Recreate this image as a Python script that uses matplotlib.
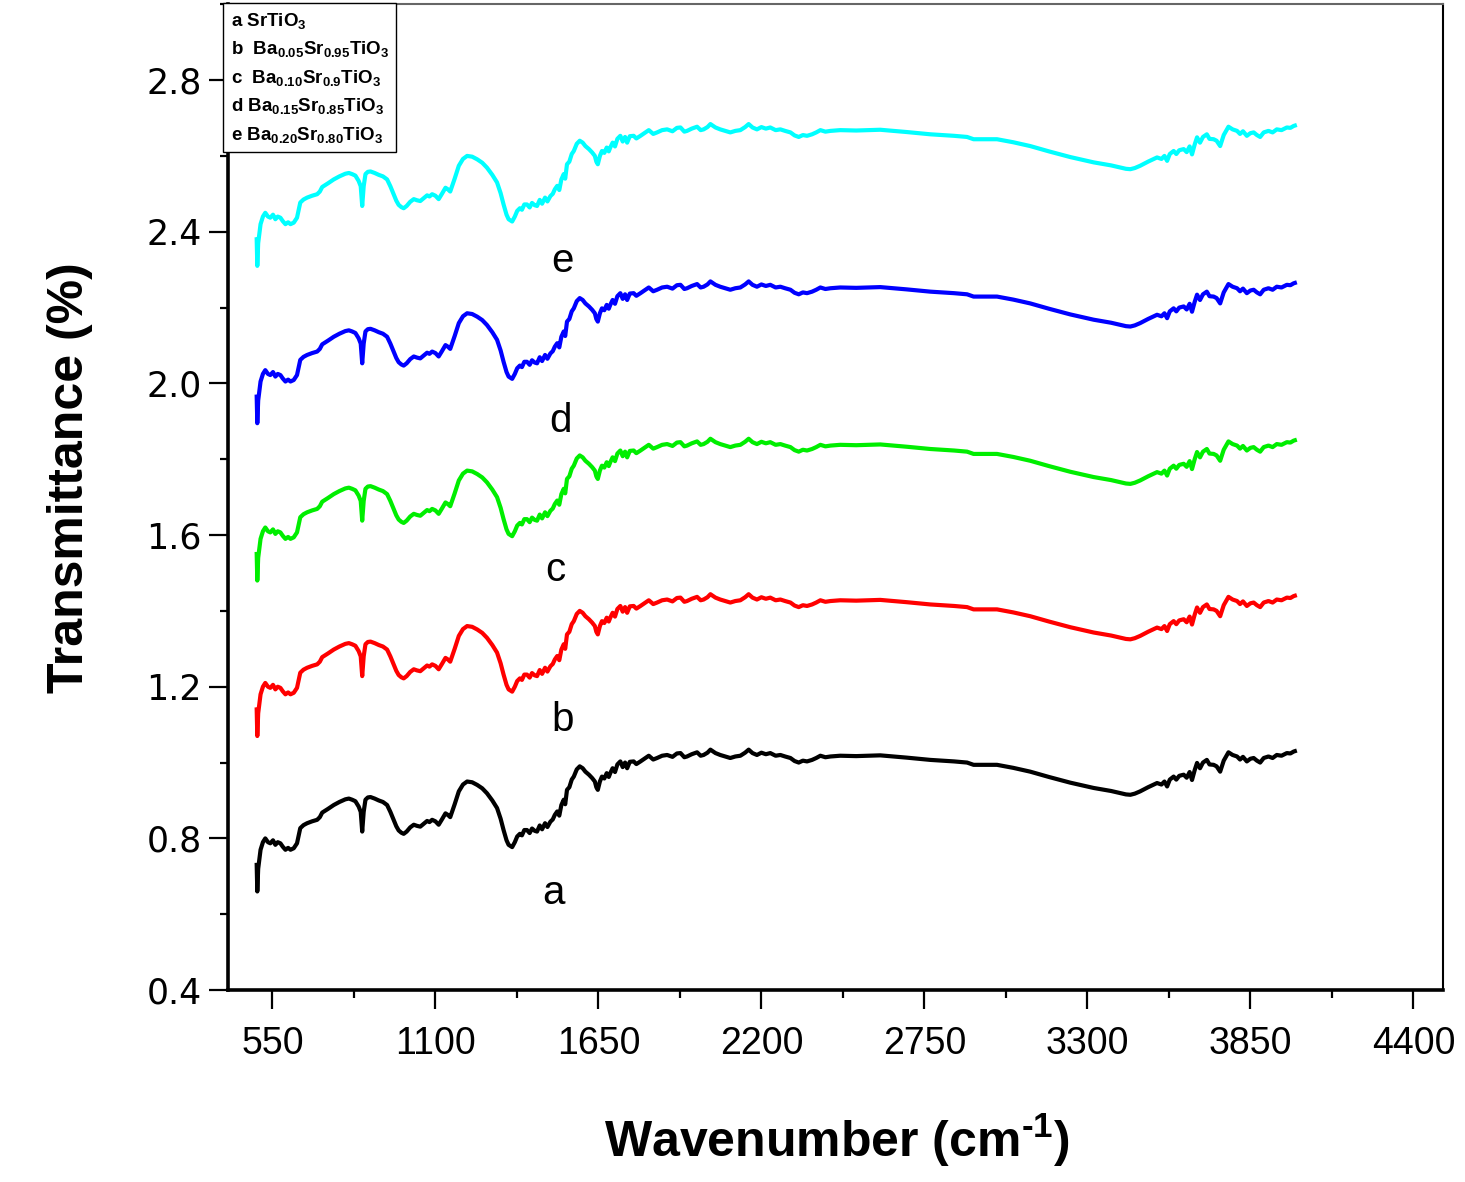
import numpy as np
import matplotlib
matplotlib.use("Agg")
from matplotlib import pyplot as plt
from matplotlib.lines import Line2D
from matplotlib.ticker import MultipleLocator

# FTIR spectrum of SrTiO3 (black trace, a)
wavenumber = [497, 499, 502, 510, 518, 526, 535, 543, 552, 560, 568, 577, 585, 594, 603, 611,
              622, 633, 644, 655, 667, 684, 701, 710, 718, 738, 757, 776, 796, 808, 819, 830,
              841, 848, 853, 858, 864, 872, 881, 895, 909, 923, 937, 948, 959, 968, 976, 985,
              993, 1003, 1015, 1027, 1038, 1049, 1060, 1072, 1080, 1089, 1100, 1111, 1122, 1134,
              1142, 1150, 1165, 1179, 1193, 1207, 1224, 1241, 1258, 1274, 1292, 1308, 1320, 1330,
              1340, 1347, 1359, 1368, 1376, 1385, 1392, 1400, 1409, 1418, 1426, 1435, 1443, 1452,
              1460, 1470, 1478, 1488, 1496, 1503, 1511, 1518, 1525, 1533, 1538, 1544, 1552, 1560,
              1567, 1577, 1587, 1597, 1606, 1618, 1629, 1638, 1643, 1648, 1655, 1662, 1670, 1678,
              1685, 1690, 1698, 1706, 1714, 1724, 1732, 1740, 1747, 1756, 1769, 1778, 1792, 1805,
              1820, 1835, 1848, 1865, 1882, 1900, 1915, 1927, 1940, 1949, 1965, 1983, 1995, 2005,
              2018, 2028, 2045, 2061, 2078, 2095, 2112, 2129, 2145, 2157, 2170, 2185, 2200, 2215,
              2230, 2248, 2264, 2280, 2298, 2312, 2326, 2340, 2354, 2371, 2385, 2399, 2416, 2433,
              2466, 2520, 2601, 2690, 2770, 2850, 2894, 2916, 2995, 3050, 3107, 3170, 3242, 3321,
              3380, 3430, 3445, 3460, 3478, 3505, 3535, 3550, 3560, 3569, 3578, 3591, 3600, 3610,
              3625, 3635, 3645, 3653, 3662, 3670, 3680, 3690, 3703, 3712, 3726, 3736, 3748, 3760,
              3776, 3790, 3805, 3815, 3825, 3838, 3850, 3861, 3872, 3883, 3895, 3911, 3925, 3939,
              3955, 3973, 3985, 3996, 4000]
transmittance = [0.73, 0.66, 0.72, 0.77, 0.79, 0.80, 0.79, 0.787, 0.795, 0.783, 0.79, 0.787, 0.778, 0.770, 0.775, 0.770,
                 0.774, 0.787, 0.827, 0.835, 0.840, 0.845, 0.849, 0.856, 0.868, 0.878, 0.888, 0.896, 0.903, 0.905, 0.902, 0.898,
                 0.884, 0.870, 0.818, 0.870, 0.902, 0.908, 0.909, 0.905, 0.900, 0.896, 0.888, 0.870, 0.849, 0.832, 0.821, 0.815,
                 0.812, 0.818, 0.829, 0.836, 0.833, 0.831, 0.838, 0.846, 0.843, 0.849, 0.845, 0.836, 0.850, 0.866,
                 0.862, 0.856, 0.890, 0.924, 0.942, 0.950, 0.948, 0.941, 0.932, 0.919, 0.900, 0.880, 0.852, 0.822,
                 0.795, 0.783, 0.777, 0.790, 0.805, 0.812, 0.808, 0.822, 0.822, 0.814, 0.826, 0.820, 0.818, 0.834,
                 0.824, 0.840, 0.830, 0.844, 0.850, 0.862, 0.871, 0.860, 0.888, 0.902, 0.890, 0.928, 0.935, 0.955,
                 0.963, 0.982, 0.990, 0.985, 0.976, 0.968, 0.959, 0.950, 0.935, 0.928, 0.950, 0.963, 0.958, 0.972,
                 0.962, 0.972, 0.985, 0.975, 0.995, 1.003, 0.988, 1.000, 0.985, 1.002, 1.003, 0.996, 1.003, 1.010,
                 1.018, 1.008, 1.012, 1.018, 1.020, 1.015, 1.024, 1.025, 1.014, 1.016, 1.022, 1.027, 1.018, 1.020,
                 1.026, 1.034, 1.025, 1.020, 1.016, 1.012, 1.016, 1.018, 1.026, 1.034, 1.025, 1.020, 1.026, 1.022,
                 1.025, 1.018, 1.020, 1.016, 1.012, 1.004, 1.000, 1.005, 1.003, 1.007, 1.012, 1.018, 1.014, 1.016,
                 1.018, 1.017, 1.019, 1.013, 1.007, 1.003, 1.000, 0.994, 0.994, 0.986, 0.976, 0.962, 0.947, 0.933,
                 0.925, 0.916, 0.915, 0.918, 0.924, 0.935, 0.946, 0.942, 0.950, 0.937, 0.955, 0.963, 0.955, 0.965,
                 0.968, 0.960, 0.975, 0.954, 0.980, 0.999, 0.985, 1.000, 1.007, 0.995, 0.994, 0.990, 0.976, 1.005,
                 1.027, 1.020, 1.016, 1.008, 1.015, 1.003, 1.010, 1.012, 1.005, 1.000, 1.012, 1.016, 1.012, 1.020,
                 1.018, 1.025, 1.024, 1.029, 1.030]

# stacked traces: vertical offset of each sample in the plot
samples = ["a", "b", "c", "d", "e"]
offsets = [0.0, 0.41, 0.82, 1.235, 1.65]
colors = ["black", "#ff0000", "#00ee00", "#0000ff", "#00ffff"]
legend_labels = [r"a SrTiO$_3$",
                 r"b  Ba$_{0.05}$Sr$_{0.95}$TiO$_3$",
                 r"c  Ba$_{0.10}$Sr$_{0.9}$TiO$_3$",
                 r"d Ba$_{0.15}$Sr$_{0.85}$TiO$_3$",
                 r"e Ba$_{0.20}$Sr$_{0.80}$TiO$_3$"]
# letter positions (wavenumber, transmittance)
letter_x = [1498, 1528, 1505, 1521, 1528]
letter_y = [0.656, 1.113, 1.509, 1.900, 2.322]

plt.rcParams['font.family'] = ['Liberation Sans', 'DejaVu Sans']
plt.rcParams['mathtext.fontset'] = 'custom'
plt.rcParams['mathtext.rm'] = 'Liberation Sans:bold'
plt.rcParams['mathtext.it'] = 'Liberation Sans:bold'
plt.rcParams['mathtext.bf'] = 'Liberation Sans:bold'

fig = plt.figure(figsize=(14.65, 11.82), dpi=100)
ax = fig.add_axes([0.1556, 0.1624, 0.8294, 0.834])

x = np.array(wavenumber)
y = np.array(transmittance)
for off, col in zip(offsets, colors):
    ax.plot(x, y + off, color=col, lw=3.0)

for s, lx, ly in zip(samples, letter_x, letter_y):
    ax.text(lx, ly, s, fontsize=29, ha="center", va="center")

ax.set_xlim(400, 4500)
ax.set_ylim(0.4, 3.0)
ax.xaxis.set_major_locator(MultipleLocator(550))
ax.xaxis.set_minor_locator(MultipleLocator(275))
ax.yaxis.set_minor_locator(MultipleLocator(0.2))
ax.set_yticks([0.4, 0.8, 1.2, 1.6, 2.0, 2.4, 2.8])

ax.tick_params(axis="both", which="major", direction="out", length=14, width=1.6)
ax.tick_params(axis="both", which="minor", direction="out", length=6, width=1.6)
ax.tick_params(axis="x", pad=12)
ax.tick_params(axis="y", pad=5)
for lab in ax.get_xticklabels():
    lab.set_fontsize(27)
for lab in ax.get_yticklabels():
    lab.set_family('DejaVu Sans')
    lab.set_fontsize(25)

ax.spines["left"].set_linewidth(2.6)
ax.spines["bottom"].set_linewidth(2.6)
ax.spines["right"].set_linewidth(1.5)
ax.spines["top"].set_linewidth(1.5)
ax.spines["top"].set_color("#666666")

ax.set_xlabel(r"Wavenumber (cm$^{\text{-1}}$)", fontsize=36, fontweight="bold")
ax.set_ylabel("Transmittance (%)", fontsize=36, fontweight="bold")
ax.xaxis.set_label_coords(0.501, -0.152)
ax.xaxis.label.set_va("center")
ax.yaxis.set_label_coords(-0.130, 0.52)
ax.yaxis.label.set_va("center")

handles = [Line2D([], [], linestyle="none") for _ in samples]
leg = ax.legend(handles, legend_labels, loc="upper left", bbox_to_anchor=(-0.004, 1.001),
                borderaxespad=0, handlelength=0, handletextpad=0, fancybox=False,
                framealpha=1, edgecolor="black", prop={"size": 13.5, "weight": "bold"},
                labelspacing=0.45, borderpad=0.4)
leg.get_frame().set_linewidth(1.0)

fig.savefig("out.png", dpi=100)
